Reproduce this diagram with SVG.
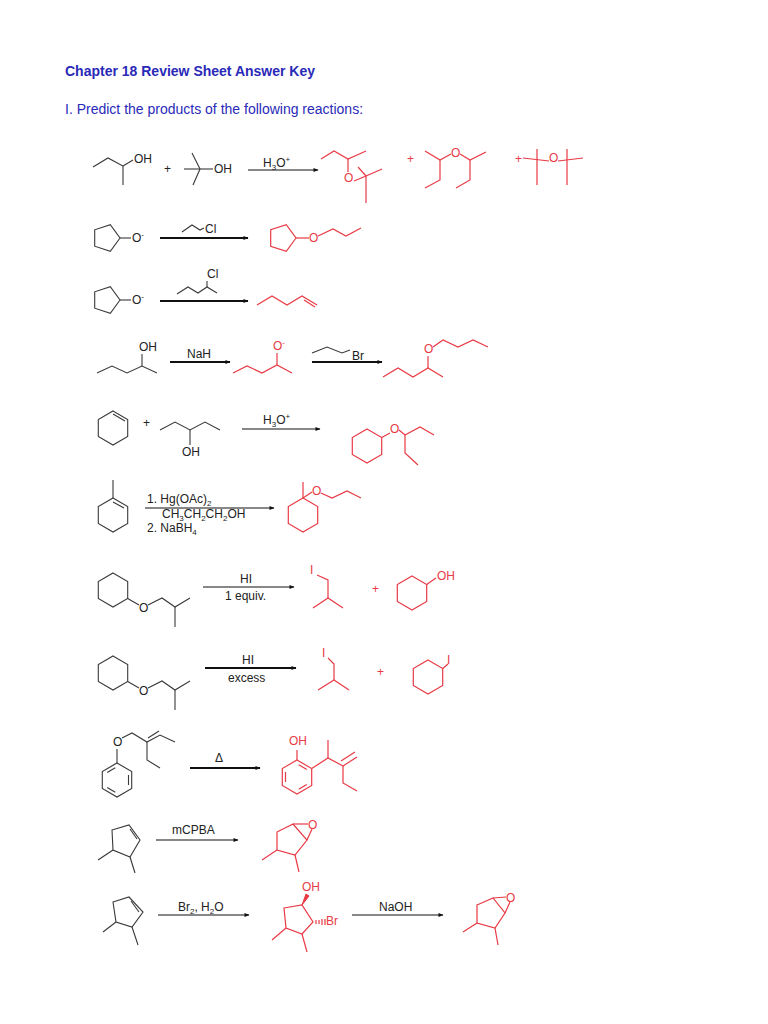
<svg xmlns="http://www.w3.org/2000/svg" width="768" height="1024" viewBox="0 0 768 1024">
<style>
.k{fill:none;stroke:#3a3a3a;stroke-width:1.1}
.r{fill:none;stroke:#e83a45;stroke-width:1.2}
.a{stroke:#111;stroke-width:1.1}
.ab{stroke:#111;stroke-width:2}
text{font-family:"Liberation Sans",Arial,sans-serif;font-size:12px;fill:#222}
.rt{fill:#e83a45}
.h{fill:#2a2ab8;font-size:14px}
</style>
<defs>
<marker id="ah" viewBox="0 0 10 10" refX="9" refY="5" markerWidth="7" markerHeight="5" orient="auto" markerUnits="userSpaceOnUse"><path d="M0,1 L10,5 L0,9 z" fill="#111"/></marker>
<g id="hexk"><polygon class="k" points="0,-17 14.7,-8.5 14.7,8.5 0,17 -14.7,8.5 -14.7,-8.5"/></g>
<g id="hexr"><polygon class="r" points="0,-17 14.7,-8.5 14.7,8.5 0,17 -14.7,8.5 -14.7,-8.5"/></g>
<g id="benzk"><polygon class="k" points="0,-17 14.7,-8.5 14.7,8.5 0,17 -14.7,8.5 -14.7,-8.5"/><path class="k" d="M11.5,-5V5M-1.7,12.3L-9.8,7.6M-9.8,-7.6L-1.7,-12.3"/></g>
<g id="benzr"><polygon class="r" points="0,-17 14.7,-8.5 14.7,8.5 0,17 -14.7,8.5 -14.7,-8.5"/><path class="r" d="M-11.5,-5V5M1.7,12.3L9.8,7.6M9.8,-7.6L1.7,-12.3"/></g>
<g id="pentk"><polygon class="k" points="14,0 4.3,13.3 -11.3,8.2 -11.3,-8.2 4.3,-13.3"/></g>
<g id="pentr"><polygon class="r" points="14,0 4.3,13.3 -11.3,8.2 -11.3,-8.2 4.3,-13.3"/></g>
</defs>
<rect width="768" height="1024" fill="#fff"/>
<text class="h" x="65" y="76" font-weight="bold">Chapter 18 Review Sheet Answer Key</text>
<text class="h" x="65" y="114">I. Predict the products of the following reactions:</text>

<g id="connectors">
<line class="a" x1="248" y1="170" x2="318" y2="170" marker-end="url(#ah)"/>
<line class="ab" x1="160" y1="238" x2="248" y2="238" marker-end="url(#ah)"/>
<line class="ab" x1="160" y1="301" x2="248" y2="301" marker-end="url(#ah)"/>
<line class="ab" x1="170" y1="362" x2="230" y2="362" marker-end="url(#ah)"/>
<line class="ab" x1="312" y1="362" x2="382" y2="362" marker-end="url(#ah)"/>
<line class="a" x1="242" y1="429" x2="320" y2="429" marker-end="url(#ah)"/>
<line class="a" x1="145" y1="508" x2="274" y2="508" marker-end="url(#ah)"/>
<line class="a" x1="203" y1="587" x2="294" y2="587" marker-end="url(#ah)"/>
<line class="ab" x1="205" y1="668" x2="296" y2="668" marker-end="url(#ah)"/>
<line class="ab" x1="190" y1="768" x2="260" y2="768" marker-end="url(#ah)"/>
<line class="a" x1="156" y1="840" x2="238" y2="840" marker-end="url(#ah)"/>
<line class="a" x1="158" y1="915" x2="249" y2="915" marker-end="url(#ah)"/>
<line class="a" x1="352" y1="915" x2="443" y2="915" marker-end="url(#ah)"/>
</g>

<g id="row1">
<polyline class="k" points="93,167 108,158 123,166 123,185"/>
<line class="k" x1="123" y1="166" x2="133" y2="160"/>
<text x="134" y="163">OH</text>
<text x="164" y="173">+</text>
<line class="k" x1="184" y1="169" x2="213" y2="169"/>
<line class="k" x1="192" y1="153" x2="200" y2="169"/>
<line class="k" x1="200" y1="169" x2="193" y2="185"/>
<text x="214" y="173">OH</text>
<text x="263" y="167">H<tspan font-size="8" dy="3">3</tspan><tspan dy="-3">O</tspan><tspan font-size="8" dy="-5">+</tspan></text>
<polyline class="r" points="321,159 334,151 348,159 366,151"/>
<line class="r" x1="348" y1="159" x2="348" y2="172"/>
<text class="rt" x="344" y="182">O</text>
<line class="r" x1="354" y1="181" x2="366" y2="176"/>
<line class="r" x1="366" y1="176" x2="382" y2="169"/>
<line class="r" x1="366" y1="176" x2="366" y2="203"/>
<line class="r" x1="366" y1="176" x2="358" y2="167"/>
<text class="rt" x="407" y="163">+</text>
<polyline class="r" points="425,151 440,160 451,154"/>
<polyline class="r" points="440,160 440,180 425,188"/>
<text class="rt" x="451" y="157">O</text>
<polyline class="r" points="460,154 470,160 486,152"/>
<polyline class="r" points="470,160 470,180 456,188"/>
<text class="rt" x="515" y="163">+</text>
<line class="r" x1="523" y1="158" x2="549" y2="161"/>
<line class="r" x1="537" y1="149" x2="537" y2="185"/>
<text class="rt" x="549" y="162">O</text>
<line class="r" x1="558" y1="161" x2="583" y2="158"/>
<line class="r" x1="567" y1="149" x2="567" y2="185"/>
</g>

<g id="row2">
<use href="#pentk" x="106" y="238"/>
<line class="k" x1="120" y1="238" x2="131" y2="238"/>
<text x="132" y="242">O<tspan font-size="8" dy="-5">-</tspan></text>
<polyline class="k" points="182,232 192,225 200,230 204,228"/>
<text x="205" y="233">Cl</text>
<use href="#pentr" x="282" y="238"/>
<line class="r" x1="296" y1="238" x2="309" y2="238"/>
<text class="rt" x="309" y="242">O</text>
<polyline class="r" points="318,236 333,229 346,236 361,228"/>
</g>

<g id="row3">
<use href="#pentk" x="106" y="300"/>
<line class="k" x1="120" y1="300" x2="131" y2="300"/>
<text x="132" y="304">O<tspan font-size="8" dy="-5">-</tspan></text>
<polyline class="k" points="177,294 188,287 198,293 207,287 217,293"/>
<line class="k" x1="207" y1="287" x2="207" y2="281"/>
<text x="207" y="278">Cl</text>
<polyline class="r" points="257,305 272,296 287,305 302,296 317,305"/>
<line class="r" x1="304" y1="300" x2="315" y2="307"/>
</g>

<g id="row4">
<polyline class="k" points="97,373 112,366 127,373 142,366 157,373"/>
<line class="k" x1="142" y1="366" x2="142" y2="354"/>
<text x="139" y="351">OH</text>
<text x="187" y="358">NaH</text>
<polyline class="r" points="233,373 247,366 262,373 277,365 292,373"/>
<line class="r" x1="277" y1="365" x2="277" y2="353"/>
<text class="rt" x="273" y="350">O<tspan font-size="8" dy="-5">-</tspan></text>
<polyline class="k" points="312,353 327,347 342,353 350,350"/>
<text x="352" y="360">Br</text>
<polyline class="r" points="383,377 398,368 413,377 428,368 443,377"/>
<line class="r" x1="428" y1="368" x2="428" y2="356"/>
<text class="rt" x="424" y="353">O</text>
<polyline class="r" points="433,347 443,340 458,347 473,340 488,347"/>
</g>

<g id="row5">
<use href="#hexk" x="113" y="428"/>
<line class="k" x1="113" y1="414" x2="125" y2="421"/>
<text x="143" y="427">+</text>
<polyline class="k" points="160,430 175,422 190,430 205,422 220,430"/>
<line class="k" x1="190" y1="430" x2="190" y2="445"/>
<text x="182" y="456">OH</text>
<text x="263" y="424">H<tspan font-size="8" dy="3">3</tspan><tspan dy="-3">O</tspan><tspan font-size="8" dy="-5">+</tspan></text>
<use href="#hexr" x="367" y="446"/>
<line class="r" x1="381.7" y1="437.5" x2="390" y2="433"/>
<text class="rt" x="390" y="433">O</text>
<line class="r" x1="399" y1="430" x2="405" y2="435"/>
<polyline class="r" points="405,435 420,427 434,435"/>
<polyline class="r" points="405,435 405,453 418,465"/>
</g>

<g id="row6">
<use href="#hexk" x="113" y="515"/>
<line class="k" x1="113" y1="498" x2="113" y2="480"/>
<line class="k" x1="113" y1="502" x2="124" y2="508"/>
<text x="147" y="503">1. Hg(OAc)<tspan font-size="8" dy="3">2</tspan></text>
<text x="162" y="518">CH<tspan font-size="8" dy="3">3</tspan><tspan dy="-3">CH</tspan><tspan font-size="8" dy="3">2</tspan><tspan dy="-3">CH</tspan><tspan font-size="8" dy="3">2</tspan><tspan dy="-3">OH</tspan></text>
<text x="147" y="532">2. NaBH<tspan font-size="8" dy="3">4</tspan></text>
<use href="#hexr" x="303" y="515"/>
<line class="r" x1="303" y1="498" x2="303" y2="482"/>
<line class="r" x1="303" y1="498" x2="312" y2="492"/>
<text class="rt" x="312" y="495">O</text>
<polyline class="r" points="321,493 332,498 347,491 361,498"/>
</g>

<g id="row7">
<use href="#hexk" x="113" y="590"/>
<line class="k" x1="127.7" y1="598.5" x2="139" y2="605"/>
<text x="139" y="612">O</text>
<polyline class="k" points="148,605 162,598 175,607 190,598"/>
<line class="k" x1="175" y1="607" x2="175" y2="627"/>
<text x="240" y="583">HI</text>
<text x="225" y="600">1 equiv.</text>
<text class="rt" x="310" y="574">I</text>
<polyline class="r" points="317,575 328,580 328,598"/>
<polyline class="r" points="313,608 328,598 343,608"/>
<text class="rt" x="372" y="593">+</text>
<use href="#hexr" x="412" y="593"/>
<line class="r" x1="426.7" y1="584.5" x2="436" y2="578"/>
<text class="rt" x="437" y="580">OH</text>
</g>

<g id="row8">
<use href="#hexk" x="113" y="673"/>
<line class="k" x1="127.7" y1="681.5" x2="139" y2="688"/>
<text x="139" y="695">O</text>
<polyline class="k" points="148,688 162,681 175,690 190,681"/>
<line class="k" x1="175" y1="690" x2="175" y2="710"/>
<text x="242" y="664">HI</text>
<text x="228" y="682">excess</text>
<text class="rt" x="322" y="657">I</text>
<polyline class="r" points="328,658 334,664 334,680"/>
<polyline class="r" points="318,690 334,680 349,690"/>
<text class="rt" x="377" y="676">+</text>
<use href="#hexr" x="428" y="677"/>
<line class="r" x1="442.7" y1="668.5" x2="448" y2="664"/>
<text class="rt" x="447" y="664">I</text>
</g>

<g id="row9">
<use href="#benzk" x="117" y="780"/>
<line class="k" x1="117" y1="763" x2="117" y2="749"/>
<text x="113" y="746">O</text>
<polyline class="k" points="122,738 132,733 147,742 160,735 175,742"/>
<line class="k" x1="148" y1="738" x2="159" y2="731"/>
<polyline class="k" points="147,742 147,760 160,768"/>
<text x="215" y="762">Δ</text>
<use href="#benzr" x="297" y="777"/>
<line class="r" x1="297" y1="760" x2="297" y2="750"/>
<text class="rt" x="289" y="745">OH</text>
<polyline class="r" points="311.7,768.5 328,758 343,766"/>
<line class="r" x1="328" y1="758" x2="328" y2="740"/>
<line class="r" x1="343" y1="766" x2="357" y2="757"/>
<line class="r" x1="341" y1="761" x2="355" y2="752"/>
<polyline class="r" points="343,766 343,783 357,791"/>
</g>

<g id="row10">
<polygon class="k" points="112,830 129,825 140,840 130,857 113,850"/>
<line class="k" x1="130" y1="829" x2="137" y2="839"/>
<line class="k" x1="113" y1="850" x2="98" y2="860"/>
<line class="k" x1="130" y1="857" x2="135" y2="873"/>
<text x="172" y="834">mCPBA</text>
<polygon class="r" points="277,832 293,824 307,840 295,855 277,850"/>
<line class="r" x1="293" y1="824" x2="308" y2="824"/>
<line class="r" x1="307" y1="840" x2="312" y2="829"/>
<text class="rt" x="308" y="829">O</text>
<line class="r" x1="277" y1="850" x2="262" y2="860"/>
<line class="r" x1="295" y1="855" x2="299" y2="872"/>
</g>

<g id="row11">
<polygon class="k" points="113,902 129,897 143,912 132,927 116,922"/>
<line class="k" x1="131" y1="901" x2="139" y2="912"/>
<line class="k" x1="116" y1="922" x2="103" y2="932"/>
<line class="k" x1="132" y1="927" x2="138" y2="945"/>
<text x="178" y="911">Br<tspan font-size="8" dy="3">2</tspan><tspan dy="-3">, H</tspan><tspan font-size="8" dy="3">2</tspan><tspan dy="-3">O</tspan></text>
<polygon class="r" points="284,908 302,905 313,922 302,934 286,928"/>
<polygon points="302,905 306,894 309,896" fill="#e83a45" stroke="#e83a45" stroke-width="1"/>
<text class="rt" x="302" y="891">OH</text>
<path class="r" d="M316,920v4M319,920v4M322,919v6M325,919v6" stroke-width="1"/>
<text class="rt" x="326" y="925">Br</text>
<line class="r" x1="286" y1="928" x2="272" y2="940"/>
<line class="r" x1="302" y1="934" x2="307" y2="952"/>
<text x="379" y="911">NaOH</text>
<polygon class="r" points="477,905 493,898 505,913 495,928 477,923"/>
<line class="r" x1="493" y1="898" x2="506" y2="897"/>
<line class="r" x1="505" y1="913" x2="510" y2="902"/>
<text class="rt" x="506" y="902">O</text>
<line class="r" x1="477" y1="923" x2="463" y2="932"/>
<line class="r" x1="495" y1="928" x2="498" y2="945"/>
</g>
</svg>
